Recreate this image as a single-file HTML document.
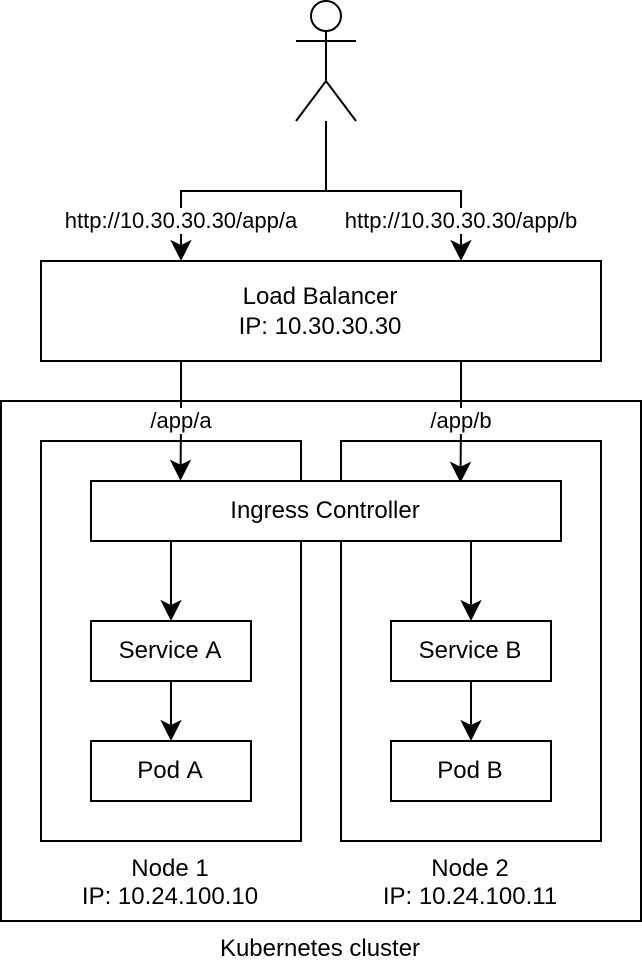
<!DOCTYPE html>
<html>
<head>
<meta charset="utf-8">
<style>
html,body{margin:0;padding:0;background:#fff;}
svg{display:block;}
text{font-family:"Liberation Sans",sans-serif;fill:#000;text-anchor:middle;font-size:24px;}
.l{font-size:22px;}
.k{font-kerning:none;}
.s{fill:#fff;stroke:#000;stroke-width:2;}
.c{fill:none;stroke:#000;stroke-width:2;}
.a{fill:#000;stroke:#000;stroke-width:2;}
</style>
</head>
<body>
<svg width="642" height="964" viewBox="0 0 642 964" xmlns="http://www.w3.org/2000/svg">
<rect width="642" height="964" fill="#fff"/>
<!-- person -->
<circle class="c" cx="326" cy="16" r="15"/>
<path class="c" d="M326 31V81M296 41H356M296 121L326 81L356 121"/>
<!-- load balancer -->
<rect class="s" x="41" y="261" width="560" height="100"/>
<!-- cluster and nodes -->
<rect class="s" x="1" y="401" width="640" height="520"/>
<rect class="s" x="41" y="441" width="260" height="400"/>
<rect class="s" x="341" y="441" width="260" height="400"/>
<!-- connectors top -->
<path class="c" d="M326 121V191H181V247M326 191H461V247"/>
<path class="a" d="M181 258.800L172.500 242L181 246.200L189.500 242Z"/>
<path class="a" d="M461 258.800L452.500 242L461 246.200L469.500 242Z"/>
<rect x="64" y="208" width="235" height="26" fill="#fff"/>
<rect x="344" y="208" width="235" height="26" fill="#fff"/>
<text class="l" x="181" y="228">http://10.30.30.30/app/a</text>
<text class="l" x="461" y="228">http://10.30.30.30/app/b</text>
<!-- connectors to ingress -->
<path class="c" d="M181 361V421L180.600 466M461 361V421L460.600 468"/>
<path class="a" d="M180.500 478.500L172 461.700L180.500 465.900L189 461.700Z"/>
<path class="a" d="M460.500 480.500L452 463.700L460.500 467.900L469 463.700Z"/>
<rect x="150" y="408" width="62" height="26" fill="#fff"/>
<rect x="430" y="408" width="62" height="26" fill="#fff"/>
<text class="l" x="181" y="428">/app/a</text>
<text class="l" x="461" y="428">/app/b</text>
<!-- ingress -->
<rect class="s" x="91" y="481" width="470" height="60"/>
<!-- inner connectors -->
<path class="c" d="M171 541V607M471 541V607M171 681V727M471 681V727"/>
<path class="a" d="M171 618.800L162.500 602L171 606.200L179.500 602Z"/>
<path class="a" d="M471 618.800L462.500 602L471 606.200L479.500 602Z"/>
<path class="a" d="M171 738.800L162.500 722L171 726.200L179.500 722Z"/>
<path class="a" d="M471 738.800L462.500 722L471 726.200L479.500 722Z"/>
<!-- service and pods -->
<rect class="s" x="91" y="621" width="160" height="60"/>
<rect class="s" x="391" y="621" width="160" height="60"/>
<rect class="s" x="91" y="741" width="160" height="60"/>
<rect class="s" x="391" y="741" width="160" height="60"/>
<!-- labels -->
<text x="320" y="304">Load Balancer</text>
<text x="320" y="334">IP: 10.30.30.30</text>
<text x="325" y="518">Ingress Controller</text>
<text class="k" x="170" y="658">Service A</text>
<text x="470" y="658">Service B</text>
<text class="k" x="170" y="778">Pod A</text>
<text x="470" y="778">Pod B</text>
<text x="170" y="876">Node 1</text>
<text x="170" y="904">IP: 10.24.100.10</text>
<text x="470" y="876">Node 2</text>
<text x="470" y="904">IP: 10.24.100.11</text>
<text x="320" y="956">Kubernetes cluster</text>
</svg>
</body>
</html>
